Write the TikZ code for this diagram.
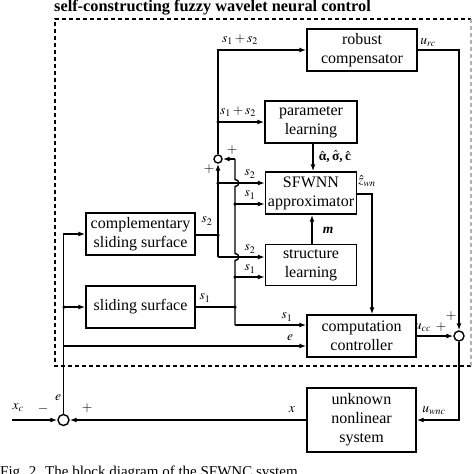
\documentclass[tikz,border=0pt]{standalone}
\usepackage{mathptmx}
\usepackage{fontspec}
\setmainfont{Liberation Serif}
\usetikzlibrary{arrows.meta}
\begin{document}
\begin{tikzpicture}[x=1pt,y=-1pt,
  wire/.style={line width=1.4pt},
  arr/.style={line width=1.4pt,-{Latex[length=7pt,width=5pt]}},
  blk/.style={draw,line width=1.4pt,inner sep=0pt,align=center,font=\fontsize{16}{19}\selectfont},
  sumc/.style={draw,circle,line width=1.4pt,inner sep=0pt,fill=white},
  dotc/.style={circle,fill,inner sep=0pt,minimum size=3.5pt},
  lab/.style={inner sep=0pt,font=\fontsize{13.5}{15}\selectfont}]
\useasboundingbox (0,0) rectangle (474,474);
\fill[white] (0,0) rectangle (474,474);
% title and frame
\node[anchor=west,inner sep=0pt,font=\fontsize{16.3}{18}\selectfont\bfseries] (title) at (54,8) {self-constructing fuzzy wavelet neural control};
\draw[line width=1.5pt,dash pattern=on 4pt off 3pt] (471,366) -- (55,366) -- (55,19) -- (471,19);
\draw[line width=1.5pt,dash pattern=on 4pt off 3pt,gray!60] (471,19) -- (471,366);
% blocks
\node[blk,minimum width=110pt,minimum height=42pt] (rc) at (362,50) {robust\\compensator};
\node[blk,minimum width=92pt,minimum height=42pt] (pl) at (311,122) {parameter\\learning};
\node[blk,minimum width=91pt,minimum height=42pt] (sf) at (311,193) {SFWNN\\approximator};
\node[blk,minimum width=91pt,minimum height=41pt] (sl) at (311,265) {structure\\learning};
\node[blk,minimum width=109pt,minimum height=42pt] (css) at (140.5,234) {complementary\\sliding surface};
\node[blk,minimum width=109pt,minimum height=42pt] (ss) at (140.5,307) {sliding surface};
\node[blk,minimum width=109pt,minimum height=42pt] (cc) at (361.5,336) {computation\\controller};
\node[blk,minimum width=109pt,minimum height=64pt] (uns) at (361.5,420) {unknown\\nonlinear\\system};
% summing junctions
\node[sumc,minimum size=8pt] (j1) at (218,159) {};
\node[sumc,minimum size=10pt] (j2) at (459,336) {};
\node[sumc,minimum size=11pt] (j3) at (63.5,420) {};
% coordinates
\coordinate (a1) at (218,122);
\coordinate (a2) at (218,183);
\coordinate (a3) at (218,235);
\coordinate (a4) at (218,257);
\coordinate (b0) at (235,159);
\coordinate (b1) at (235,204);
\coordinate (b2) at (235,277);
\coordinate (b3) at (235,307);
\coordinate (b4) at (235,325);
\coordinate (c1) at (64,307);
\coordinate (c2) at (64,346);
\coordinate (xin) at (12,420);
\coordinate (zo) at (372,194);
% s1+s2 to robust compensator and parameter learning
\draw[arr] (j1.north) |- (rc.west);
\draw[arr] (a1) -- (pl.west |- a1);
% s2 wiring
\draw[wire] (css.east |- a3) -- (a3);
\draw[arr] (a4) -- (j1.south);
\draw[arr] (a4) -- (sl.west |- a4);
\draw[arr] (a2) -- (sf.west |- a2);
% s1 wiring with hops
\draw[wire] (ss.east |- b3) -- (b3);
\draw[wire] (b4) -- (235,260.5) .. controls (240,260.5) and (240,253.5) .. (235,253.5)
  -- (235,186.5) .. controls (240,186.5) and (240,179.5) .. (235,179.5) -- (b0);
\draw[arr] (b0) -- (j1.east);
\draw[arr] (b1) -- (sf.west |- b1);
\draw[arr] (b2) -- (sl.west |- b2);
\draw[arr] (b4) -- (cc.west |- b4);
% learning signals
\draw[arr] (pl.south -| 313,0) -- (sf.north -| 313,0);
\draw[arr] (sl.north -| 312,0) -- (sf.south -| 312,0);
% SFWNN output
\draw[arr] (sf.east |- zo) -- (zo) -- (zo |- cc.north);
% control sum
\draw[arr] (cc.east) -- (j2.west);
\draw[arr] (rc.east) -| (j2.north);
\draw[arr] (j2.south) |- (uns.east);
% plant feedback
\draw[arr] (uns.west) -- (j3.east);
\draw[arr] (xin) -- (j3.west);
\draw[arr] (j3.north) |- (css.west);
\draw[arr] (c1) -- (ss.west |- c1);
\draw[arr] (c2) -- (cc.west |- c2);
% dots
\foreach \p in {a1,a2,a3,b1,b2,b3,c1} \node[dotc] at (\p) {};
% labels
\node[lab] (l1) at (240,40) {$s_1+s_2$};
\node[lab] (l2) at (238,112) {$s_1+s_2$};
\node[lab] (l3) at (232,150) {$+$};
\node[lab] (l4) at (209,169) {$+$};
\node[lab] (l5) at (250,174) {$s_2$};
\node[lab] (l6) at (250,195) {$s_1$};
\node[lab] (l7) at (207,221) {$s_2$};
\node[lab] (l8) at (250,249) {$s_2$};
\node[lab] (l9) at (250,269) {$s_1$};
\node[lab] (l10) at (205,298) {$s_1$};
\node[lab] (l11) at (287,317) {$s_1$};
\node[lab] (l12) at (290,338) {$e$};
\node[lab] (l13) at (335,157) {$\hat{\mbox{\textbf{α}}}$\textbf{,}\,$\hat{\mbox{\textbf{σ}}}$\textbf{,}\,$\hat{\mbox{\textbf{c}}}$};
\node[lab] (l14) at (367,181) {$\hat{z}_{wn}$};
\node[lab] (l15) at (328,230) {\textbf{\textit{m}}};
\node[lab] (l16) at (428,43) {$u_{rc}$};
\node[lab] (l17) at (423,328) {$u_{cc}$};
\node[lab] (l18) at (441,327) {$+$};
\node[lab] (l19) at (451,316) {$+$};
\node[lab] (l20) at (434,411) {$u_{wnc}$};
\node[lab] (l21) at (292,410) {$x$};
\node[lab] (l22) at (87,408) {$+$};
\node[lab] (l23) at (43,409) {$-$};
\node[lab] (l24) at (18,408) {$x_c$};
\node[lab] (l25) at (58,398) {$e$};
\node[anchor=base west,inner sep=0pt,font=\fontsize{15}{18}\selectfont] (cap) at (0,476) {Fig. 2. The block diagram of the SFWNC system.};
\end{tikzpicture}
\end{document}
